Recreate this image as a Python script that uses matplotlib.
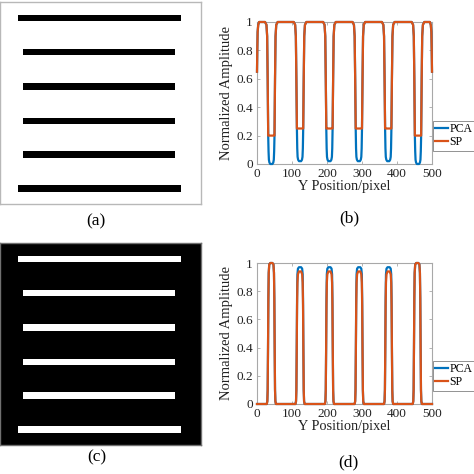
import matplotlib

matplotlib.use("Agg")
import matplotlib.pyplot as plt

# ==================== Data ====================
# stripe targets (image pixel coords, 500x500)
BAR_CENTERS = [40, 124, 209, 294, 378, 462]
BAR_STARTS = [45, 57, 57, 57, 57, 45]
BAR_LENGTHS = [405, 378, 378, 378, 378, 405]
BAR_THICK = 16

# (b) profile across black stripes
X_B = [0, 0.8, 1.8, 3.5, 6,
       23, 27, 29, 30.5, 32, 33, 34, 35.5, 38, 44, 46.5, 48, 49, 50, 51.5, 53, 55, 59,
       105, 109, 111, 112.5, 114, 115, 116, 117.5, 120, 126, 128.5, 130, 131, 132, 133.5, 135, 137, 141,
       189, 193, 195, 196.5, 198, 199, 200, 201.5, 204, 210, 212.5, 214, 215, 216, 217.5, 219, 221, 225,
       273, 277, 279, 280.5, 282, 283, 284, 285.5, 288, 294, 296.5, 298, 299, 300, 301.5, 303, 305, 309,
       357, 361, 363, 364.5, 366, 367, 368, 369.5, 372, 378, 380.5, 382, 383, 384, 385.5, 387, 389, 393,
       442, 446, 448, 449.5, 451, 452, 453, 454.5, 457, 463, 465.5, 467, 468, 469, 470.5, 472, 474, 478,
       494, 496.5, 498.2, 499.2, 500]
SP_B = [0.65, 0.8, 0.93, 0.98, 1,
        1, .98, .9, .6, .2, .2, .2, .2, .2, .2, .2, .2, .2, .2, .6, .9, .98, 1,
        1, .98, .9, .6, .25, .25, .25, .25, .25, .25, .25, .25, .25, .25, .6, .9, .98, 1,
        1, .98, .9, .6, .25, .25, .25, .25, .25, .25, .25, .25, .25, .25, .6, .9, .98, 1,
        1, .98, .9, .6, .25, .25, .25, .25, .25, .25, .25, .25, .25, .25, .6, .9, .98, 1,
        1, .98, .9, .6, .25, .25, .25, .25, .25, .25, .25, .25, .25, .25, .6, .9, .98, 1,
        1, .98, .9, .6, .2, .2, .2, .2, .2, .2, .2, .2, .2, .2, .6, .9, .98, 1,
        1, 0.98, 0.93, 0.8, 0.65]
PCA_B = [0.65, 0.8, 0.93, 0.98, 1,
         1, .98, .9, .6, .2, .09, .03, .01, 0, 0, .01, .03, .09, .2, .6, .9, .98, 1,
         1, .98, .9, .6, .25, .11, .05, .03, .02, .02, .03, .05, .11, .25, .6, .9, .98, 1,
         1, .98, .9, .6, .25, .11, .05, .03, .02, .02, .03, .05, .11, .25, .6, .9, .98, 1,
         1, .98, .9, .6, .25, .11, .05, .03, .02, .02, .03, .05, .11, .25, .6, .9, .98, 1,
         1, .98, .9, .6, .25, .11, .05, .03, .02, .02, .03, .05, .11, .25, .6, .9, .98, 1,
         1, .98, .9, .6, .2, .09, .03, .01, 0, 0, .01, .03, .09, .2, .6, .9, .98, 1,
         1, 0.98, 0.93, 0.8, 0.65]

# (d) profile across white stripes
X_D = [0,
       25, 28, 29.5, 30.5, 31.5, 32.5, 33.5, 35, 38, 44, 47, 48.5, 49.5, 50.5, 51.5, 52.5, 54, 57,
       107, 110, 111.5, 112.5, 113.5, 114.5, 115.5, 117, 120, 126, 129, 130.5, 131.5, 132.5, 133.5, 134.5, 136, 139,
       191, 194, 195.5, 196.5, 197.5, 198.5, 199.5, 201, 204, 210, 213, 214.5, 215.5, 216.5, 217.5, 218.5, 220, 223,
       276, 279, 280.5, 281.5, 282.5, 283.5, 284.5, 286, 289, 295, 298, 299.5, 300.5, 301.5, 302.5, 303.5, 305, 308,
       360, 363, 364.5, 365.5, 366.5, 367.5, 368.5, 370, 373, 379, 382, 383.5, 384.5, 385.5, 386.5, 387.5, 389, 392,
       442, 445, 446.5, 447.5, 448.5, 449.5, 450.5, 452, 455, 461, 464, 465.5, 466.5, 467.5, 468.5, 469.5, 471, 474,
       500]
SP_D = [0,
        0, 0, .02, .1, .4, .75, .93, .99, 1, 1, .99, .93, .75, .4, .1, .02, 0, 0,
        0, 0, .02, .1, .38, .7, .86, .92, .94, .94, .92, .86, .7, .38, .1, .02, 0, 0,
        0, 0, .02, .1, .38, .7, .86, .92, .94, .94, .92, .86, .7, .38, .1, .02, 0, 0,
        0, 0, .02, .1, .38, .7, .86, .92, .94, .94, .92, .86, .7, .38, .1, .02, 0, 0,
        0, 0, .02, .1, .38, .7, .86, .92, .94, .94, .92, .86, .7, .38, .1, .02, 0, 0,
        0, 0, .02, .1, .4, .75, .93, .99, 1, 1, .99, .93, .75, .4, .1, .02, 0, 0,
        0]
PCA_D = [0,
         0, 0, .02, .1, .4, .75, .93, .99, 1, 1, .99, .93, .75, .4, .1, .02, 0, 0,
         0, 0, .02, .1, .4, .75, .92, .96, .97, .97, .96, .92, .75, .4, .1, .02, 0, 0,
         0, 0, .02, .1, .4, .75, .92, .96, .97, .97, .96, .92, .75, .4, .1, .02, 0, 0,
         0, 0, .02, .1, .4, .75, .92, .96, .97, .97, .96, .92, .75, .4, .1, .02, 0, 0,
         0, 0, .02, .1, .4, .75, .92, .96, .97, .97, .96, .92, .75, .4, .1, .02, 0, 0,
         0, 0, .02, .1, .4, .75, .93, .99, 1, 1, .99, .93, .75, .4, .1, .02, 0, 0,
         0]

X_TICKS = [0, 100, 200, 300, 400, 500]
Y_TICKS = [0, 0.2, 0.4, 0.6, 0.8, 1]
Y_TICKLABELS = ["0", "0.2", "0.4", "0.6", "0.8", "1"]
# ===============================================

PCA_COLOR = "#0072BD"
SP_COLOR = "#D95319"
BOX_GRAY = "#a8a8a8"
W = H = 474.0

plt.rcParams["font.family"] = ["Liberation Serif", "DejaVu Serif"]


def px_axes(fig, left, top, right, bottom):
    return fig.add_axes([left / W, 1 - bottom / H, (right - left) / W, (bottom - top) / H])


def stripe_panel(ax, bg, fg, edge):
    ax.set_facecolor(bg)
    ax.barh(BAR_CENTERS, BAR_LENGTHS, left=BAR_STARTS, height=BAR_THICK, color=fg)
    ax.set_xlim(0, 500)
    ax.set_ylim(500, 0)
    ax.set_xticks([])
    ax.set_yticks([])
    for sp in ax.spines.values():
        sp.set_color(edge)
        sp.set_linewidth(1.0)


def profile_panel(ax, x_pca, y_pca, x_sp, y_sp):
    ax.plot(x_pca, y_pca, color=PCA_COLOR, lw=1.6, label="PCA", clip_on=False, zorder=3)
    ax.plot(x_sp, y_sp, color=SP_COLOR, lw=1.6, label="SP", clip_on=False, zorder=3)
    ax.set_xlim(0, 500)
    ax.set_ylim(0, 1)
    ax.set_xticks(X_TICKS)
    ax.set_yticks(Y_TICKS)
    ax.set_yticklabels(Y_TICKLABELS)
    ax.tick_params(direction="in", length=2.5, width=0.6, colors=BOX_GRAY,
                   labelcolor="#222222", labelsize=9.5, pad=3,
                   top=True, right=True)
    for sp in ax.spines.values():
        sp.set_color(BOX_GRAY)
        sp.set_linewidth(0.8)
    ax.set_xlabel("Y Position/pixel", fontsize=10.3, labelpad=0, color="#222222")
    ax.set_ylabel("Normalized Amplitude", fontsize=10.5, labelpad=2, color="#222222")
    leg = ax.legend(loc="center left", bbox_to_anchor=(1.003, 0.2), fontsize=8.5,
                    frameon=True, fancybox=False, borderpad=0.2, borderaxespad=0,
                    handlelength=1.1, handletextpad=0.15, labelspacing=0.1)
    leg.get_frame().set_edgecolor("#777777")
    leg.get_frame().set_linewidth(0.7)


def main():
    fig = plt.figure(figsize=(4.74, 4.74), dpi=100)

    ax_a = px_axes(fig, 0, 2, 201, 204)
    stripe_panel(ax_a, "white", "black", "#b8b8b8")
    ax_c = px_axes(fig, 0, 243, 201, 445)
    stripe_panel(ax_c, "black", "white", "#707070")

    ax_b = px_axes(fig, 257, 22, 432, 164)
    profile_panel(ax_b, X_B, PCA_B, X_B, SP_B)
    ax_d = px_axes(fig, 257, 263, 432, 404)
    profile_panel(ax_d, X_D, PCA_D, X_D, SP_D)

    for text, x, y in [("(a)", 96, 221), ("(b)", 349, 218), ("(c)", 97, 457), ("(d)", 348, 462)]:
        fig.text(x / W, 1 - y / H, text, ha="center", va="center", fontsize=12.5)

    fig.savefig("out.png", dpi=100)
    plt.close(fig)


if __name__ == "__main__":
    main()
